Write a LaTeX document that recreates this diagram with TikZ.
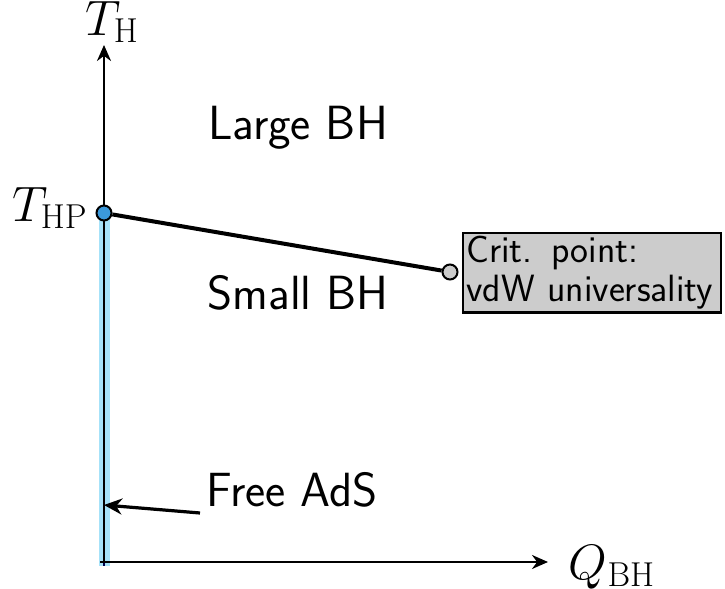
\documentclass[tikz,border=0pt]{standalone}
\usetikzlibrary{arrows.meta}
\begin{document}
\begin{tikzpicture}[x=0.5pt,y=-0.5pt,
  lbl/.style={font=\fontsize{24}{28}\selectfont\sffamily},
  mth/.style={font=\fontsize{26}{30}\selectfont},
  ax/.style={line width=1.2pt,-{Stealth[length=8pt,width=7pt]}}]
\useasboundingbox (0,0) rectangle (725,589);
\coordinate (O) at (104,562);
\coordinate (ytop) at (104,45);
\coordinate (xend) at (548,562);
\draw[line width=5.5pt,cyan!35] (104,213) -- (104,566);
\draw[line width=1.4pt,black!70!blue] (104,213) -- (104,566);
\draw[ax] (O) -- (ytop);
\draw[ax] (100,562) -- (xend);
\node[mth] (th) at (112,22) {$T_{\mathrm{H}}$};
\node[mth] (qb) at (612,567) {$Q_{\mathrm{BH}}$};
\node[mth] (thp) at (50,208) {$T_{\mathrm{HP}}$};
\node[circle,draw,line width=1pt,fill=cyan!70!blue!80,inner sep=0pt,minimum size=7.5pt] (hp) at (104,213) {};
\node[circle,draw,line width=1pt,fill=black!20,inner sep=0pt,minimum size=7.5pt] (cp) at (450,272) {};
\draw[line width=2pt] (hp) -- (cp);
\node[draw,line width=1.2pt,fill=black!20,align=left,inner sep=1.5pt,anchor=north west,
  text width=126pt,font=\fontsize{19}{19.5}\selectfont\sffamily] (box) at (462,232) {Crit. point:\\vdW universality};
\node[lbl] (lg) at (298,128) {Large BH};
\node[lbl] (sm) at (298,293) {Small BH};
\node[lbl] (fa) at (292,490) {Free AdS};
\coordinate (fend) at (104,505);
\draw[line width=1.6pt,-{Stealth[length=9pt,width=8pt]}] (200,513) -- (fend);
\end{tikzpicture}
\end{document}
